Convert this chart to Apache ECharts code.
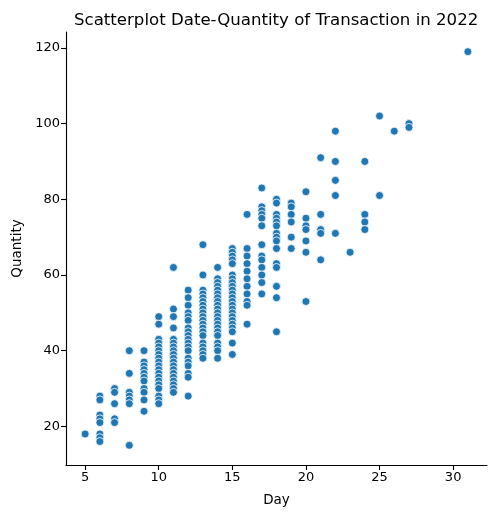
<!DOCTYPE html>
<html>
<head>
<meta charset="utf-8">
<script src="https://cdn.jsdelivr.net/npm/echarts@6/dist/echarts.min.js"></script>
<style>html,body{margin:0;padding:0;background:#fff}#c{width:495px;height:518px}</style>
</head>
<body>
<div id="c"></div>
<script>
const days = [5, 6, 7, 8, 9, 10, 11, 12, 13, 14, 15, 16, 17, 18, 19, 20, 21, 22, 23, 24, 25, 26, 27, 31];
const quantities = [
  [18],
  [28, 27, 23, 22, 21, 18, 17, 16],
  [30, 29, 26, 22, 21],
  [40, 34, 29, 28, 27, 26, 15],
  [40, 37, 36, 35, 34, 33, 32, 30, 29, 27, 24],
  [49, 47, 43, 42, 41, 40, 39, 38, 37, 36, 35, 34, 33, 32, 31, 30, 28, 27, 26],
  [62, 51, 49, 46, 43, 42, 41, 40, 39, 38, 37, 36, 35, 34, 33, 32, 31, 30, 29],
  [56, 54, 52, 50, 49, 48, 46, 45, 44, 43, 42, 41, 40, 38, 37, 36, 34, 33, 28],
  [68, 60, 56, 55, 54, 53, 52, 51, 50, 49, 48, 47, 46, 45, 44, 42, 41, 40, 39, 38],
  [62, 59, 58, 57, 56, 55, 54, 53, 52, 51, 50, 49, 48, 47, 46, 45, 44, 42, 41, 40, 38],
  [67, 66, 65, 64, 63, 60, 59, 58, 57, 56, 55, 54, 53, 52, 51, 50, 49, 48, 47, 46, 45, 42, 39],
  [76, 67, 65, 63, 61, 59, 57, 55, 53, 52, 47],
  [83, 78, 77, 76, 75, 73, 68, 65, 64, 62, 60, 58, 55],
  [80, 79, 76, 75, 74, 73, 71, 70, 69, 67, 63, 62, 57, 54, 45],
  [79, 78, 76, 74, 70, 67],
  [82, 75, 73, 72, 69, 66, 53],
  [91, 76, 72, 71, 64],
  [98, 90, 85, 81, 71],
  [66],
  [90, 76, 74, 72],
  [102, 81],
  [98],
  [100, 99],
  [119]
];
const xTicks = [5, 10, 15, 20, 25, 30];
const yTicks = [20, 40, 60, 80, 100, 120];

const points = [];
days.forEach((d, i) => quantities[i].forEach(q => points.push([d, q])));

const font = 'DejaVu Sans';
const chart = echarts.init(document.getElementById('c'), null, {renderer: 'canvas'});
chart.setOption({
  animation: false,
  backgroundColor: '#fff',
  title: {
    text: 'Scatterplot Date-Quantity of Transaction in 2022',
    left: 69, top: 7,
    textStyle: {fontFamily: font, fontSize: 16.6, fontWeight: 'normal', color: '#000'}
  },
  grid: {left: 66, right: 8, top: 32, bottom: 53},
  xAxis: {
    type: 'value', min: 3.7, max: 32.3,
    name: 'Day', nameLocation: 'middle', nameGap: 28,
    nameTextStyle: {fontFamily: font, fontSize: 13.5, color: '#000'},
    splitLine: {show: false},
    axisLine: {show: true, onZero: false, lineStyle: {color: '#000', width: 1.1}},
    axisTick: {show: true, length: 5, lineStyle: {color: '#000', width: 1.1}, customValues: xTicks},
    axisLabel: {fontFamily: font, fontSize: 13, color: '#000', margin: 6, customValues: xTicks}
  },
  yAxis: {
    type: 'value', min: 9.8, max: 124.2,
    name: 'Quantity', nameLocation: 'middle', nameGap: 42,
    nameTextStyle: {fontFamily: font, fontSize: 13.5, color: '#000'},
    splitLine: {show: false},
    axisLine: {show: true, onZero: false, lineStyle: {color: '#000', width: 1.1}},
    axisTick: {show: true, length: 5, lineStyle: {color: '#000', width: 1.1}, customValues: yTicks},
    axisLabel: {fontFamily: font, fontSize: 13, color: '#000', margin: 6, customValues: yTicks}
  },
  series: [{
    type: 'scatter',
    data: points,
    symbolSize: 8,
    itemStyle: {color: '#1f77b4', borderColor: '#fff', borderWidth: 0.8, opacity: 1}
  }]
});
</script>
</body>
</html>
